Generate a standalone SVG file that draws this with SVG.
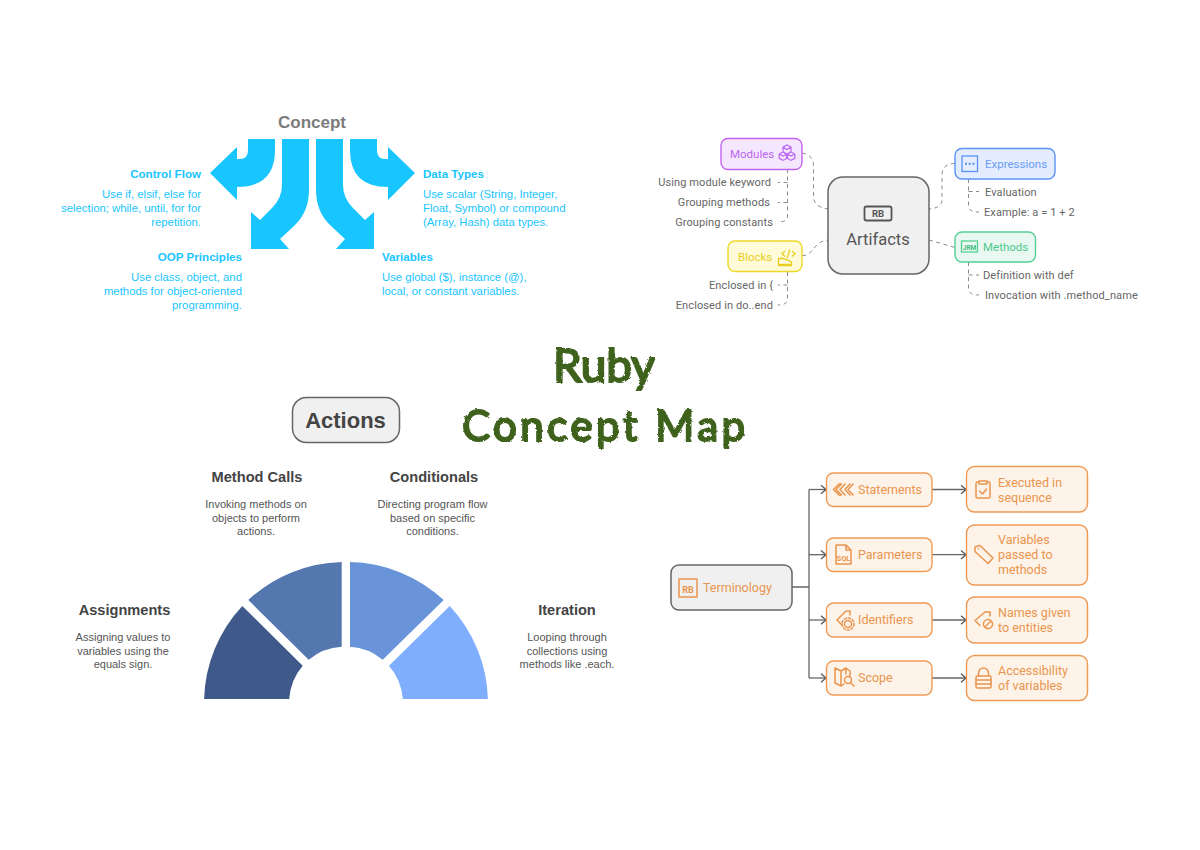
<svg xmlns="http://www.w3.org/2000/svg" width="1200" height="850" viewBox="0 0 1200 850">
<style>
text{font-family:"Liberation Sans",Arial,sans-serif}
.bl{fill:#19c5ff;font-size:11.35px}
.blt{fill:#19c5ff;font-size:11.6px;font-weight:700}
.r{text-anchor:end}
.m{text-anchor:middle}
.h{fill:#444;font-size:14.6px;font-weight:700;text-anchor:middle}
.b{fill:#555;font-size:11px;text-anchor:middle}
.rb{font-family:Roboto,"Liberation Sans",sans-serif}
.sub{font-family:Roboto,"Liberation Sans",sans-serif;fill:#666;font-size:11px;letter-spacing:.1px}
.lab{font-family:Roboto,"Liberation Sans",sans-serif;font-size:11.5px}
.or{font-family:Roboto,"Liberation Sans",sans-serif;font-size:12.5px;fill:#e9954f}
.obox{fill:#fef3e8;stroke:#ee9a55;stroke-width:1.4}
.oic{fill:none;stroke:#e9954f;stroke-width:1.5;stroke-linejoin:round;stroke-linecap:round}
.dash{fill:none;stroke:#8a8a8a;stroke-width:1;stroke-dasharray:4 3.5}
.conn{fill:none;stroke:#666;stroke-width:1.3}
.title{font-family:Lato,sans-serif;fill:#3f621f;filter:url(#rough);stroke:#3f621f;stroke-width:2}
</style>
<defs>
<marker id="chev" markerWidth="8" markerHeight="10" refX="6.5" refY="5" orient="auto" markerUnits="userSpaceOnUse"><path d="M1.5 .8 6.5 5 1.5 9.2" fill="none" stroke="#555" stroke-width="1.3"/></marker>
<filter id="rough" x="-5%" y="-10%" width="110%" height="120%"><feTurbulence type="fractalNoise" baseFrequency=".3" numOctaves="2" seed="4"/><feDisplacementMap in="SourceGraphic" scale="3"/></filter>
<path id="sideArrow" d="M248 139H275V150Q275 187 237 187V200L210 173 237 147V159H240Q248 159 248 150Z"/>
<path id="downArrow" d="M282 139H309V190Q309 212 294 226L280 239 289 249H251V212L260 220 272 208Q282 198 282 185Z"/>
</defs>

<g id="concept-title"><text x="312" y="127.500" class="m" font-size="17" font-weight="700" fill="#7c7c7c">Concept</text></g>
<g id="concept-arrows" fill="#19c5ff">
<use href="#sideArrow"/><use href="#downArrow"/>
<use href="#sideArrow" transform="translate(625 0) scale(-1 1)"/><use href="#downArrow" transform="translate(625 0) scale(-1 1)"/>
</g>
<g id="control-flow"><text x="201" y="177.500" class="blt r">Control Flow</text><text x="201" y="198" class="bl r">Use if, elsif, else for</text><text x="201" y="212" class="bl r">selection; while, until, for for</text><text x="201" y="226" class="bl r">repetition.</text></g>
<g id="data-types"><text x="423" y="177.500" class="blt">Data Types</text><text x="423" y="198" class="bl">Use scalar (String, Integer,</text><text x="423" y="212" class="bl">Float, Symbol) or compound</text><text x="423" y="226" class="bl">(Array, Hash) data types.</text></g>
<g id="oop"><text x="242" y="261" class="blt r">OOP Principles</text><text x="242" y="281" class="bl r">Use class, object, and</text><text x="242" y="295" class="bl r">methods for object-oriented</text><text x="242" y="309" class="bl r">programming.</text></g>
<g id="variables"><text x="382" y="261" class="blt">Variables</text><text x="382" y="281" class="bl">Use global ($), instance (@),</text><text x="382" y="295" class="bl">local, or constant variables.</text></g>

<g id="artifact-connectors">
<path class="dash" d="M802 153Q813 155 813.500 165V197Q814 207 828 209"/>
<path class="dash" d="M802 255.500C814 256 812 242 828 240"/>
<path class="dash" d="M955 163.500Q942 164 942 175V200Q942 208 929 209"/>
<path class="dash" d="M929 240L955 247.500"/>
<path class="dash" d="M787.500 169V216Q787.500 222 778 222M787.500 182.500H778M787.500 202.500H778"/>
<path class="dash" d="M787.500 272V299Q787.500 305 778 305M787.500 285H778"/>
<path class="dash" d="M968.500 179V206Q968.500 212 979 212M968.500 191.500H979"/>
<path class="dash" d="M968.500 262V289Q968.500 295 979 295M968.500 275H979"/>
</g>
<g id="artifacts"><rect x="828" y="177" width="101" height="97" rx="15" fill="#f0f0f0" stroke="#666" stroke-width="1.500"/><rect x="864.500" y="206.500" width="27" height="14" rx="2" fill="none" stroke="#555" stroke-width="1.800"/><text x="878" y="217" class="m rb" font-size="9.500" font-weight="700" fill="#555">RB</text><text x="878" y="245" class="m rb" font-size="16.500" fill="#555">Artifacts</text></g>
<g id="modules"><rect x="721" y="138.500" width="81" height="31" rx="7" fill="#f5e6ff" stroke="#c264f0" stroke-width="1.400"/><text x="730" y="157.500" class="lab" fill="#bb66ee">Modules</text><path d="M787 145l4 2.200v4.600l-4 2.200-4-2.200v-4.600zM783 152l3.500 2v4.400l-3.500 2-3.800-2v-4.400zM791 152l3.800 2v4.400l-3.800 2-3.500-2v-4.400zM783 147.200l4 2.300 4-2.300M779.200 154l3.800 2 3.500-2M787.500 154l3.500 2 3.800-2" fill="none" stroke="#bb66ee" stroke-width="1.200"/></g>
<g id="blocks"><rect x="728" y="241" width="74" height="30.500" rx="7" fill="#fffbd8" stroke="#eed726" stroke-width="1.400"/><text x="738" y="261" class="lab" fill="#e6cf22">Blocks</text><path d="M785 251l-3 2.800 3 2.800M792 251l3 2.800-3 2.800M789.800 249.500l-2.600 8.500M778.500 258.500h5l8 3.500v2.500h-13zM778 265.500h14" fill="none" stroke="#e6cf22" stroke-width="1.300"/></g>
<g id="expressions"><rect x="955" y="148.500" width="100" height="30.500" rx="7" fill="#e3edff" stroke="#5b93f5" stroke-width="1.400"/><rect x="962" y="156" width="15.500" height="15.500" fill="none" stroke="#5b93f5" stroke-width="1.300"/><path d="M965 163.800h1.800M968.800 163.800h1.800M972.600 163.800h1.800" stroke="#4c86f0" stroke-width="2"/><text x="985" y="167.500" class="lab" fill="#6b9cf5">Expressions</text></g>
<g id="methods"><rect x="955" y="232" width="80.500" height="30" rx="7" fill="#e9f9f1" stroke="#55cf95" stroke-width="1.400"/><rect x="961.500" y="241" width="16" height="11" fill="none" stroke="#55cf95" stroke-width="1.300"/><text x="969.500" y="249.500" class="m rb" font-size="6.500" font-weight="700" fill="#3eb87d">JRM</text><text x="983" y="251" class="lab" fill="#4cc78c">Methods</text></g>
<g id="artifact-leaves">
<text x="771" y="186" class="r sub">Using module keyword</text><text x="770" y="206" class="r sub">Grouping methods</text><text x="773" y="226" class="r sub">Grouping constants</text><text x="773" y="289" class="r sub">Enclosed in {</text><text x="773" y="309" class="r sub">Enclosed in do..end</text>
<text x="985" y="196" class="sub">Evaluation</text><text x="984" y="216" class="sub">Example: a = 1 + 2</text><text x="983" y="279" class="sub">Definition with def</text><text x="985" y="299" class="sub">Invocation with .method_name</text>
</g>

<g id="title"><text x="553" y="382" class="title" font-size="46" textLength="102" lengthAdjust="spacing">Ruby</text><text x="462" y="441" class="title" font-size="42" textLength="283" lengthAdjust="spacing">Concept Map</text></g>

<g id="actions"><rect x="292.500" y="397.500" width="107" height="45" rx="14" fill="#f0f0f0" stroke="#666" stroke-width="1.500"/><text x="345.500" y="428" class="m" font-size="22" font-weight="700" fill="#444">Actions</text></g>
<g id="method-calls"><text x="257" y="482" class="h">Method Calls</text><text x="256" y="508" class="b">Invoking methods on</text><text x="256" y="521.500" class="b">objects to perform</text><text x="256" y="535" class="b">actions.</text></g>
<g id="conditionals"><text x="434" y="482" class="h">Conditionals</text><text x="432.500" y="508" class="b">Directing program flow</text><text x="432.500" y="521.500" class="b">based on specific</text><text x="432.500" y="535" class="b">conditions.</text></g>
<g id="assignments"><text x="124.500" y="615" class="h">Assignments</text><text x="123" y="641" class="b">Assigning values to</text><text x="123" y="654.500" class="b">variables using the</text><text x="123" y="668" class="b">equals sign.</text></g>
<g id="iteration"><text x="567" y="615" class="h">Iteration</text><text x="567" y="641" class="b">Looping through</text><text x="567" y="654.500" class="b">collections using</text><text x="567" y="668" class="b">methods like .each.</text></g>
<g id="semicircle">
<path fill="#3f5a8a" d="M204.100 699A142 142 0 0 1 242.300 606L302.700 665.700A57 57 0 0 0 289.200 699Z"/>
<path fill="#5577b0" d="M248.300 600A142 142 0 0 1 341.700 562V646.800A57 57 0 0 0 308.700 659.700Z"/>
<path fill="#6994d9" d="M350 562A142 142 0 0 1 443.700 600L382.700 659.700A57 57 0 0 0 350 646.800Z"/>
<path fill="#80aeff" d="M449.700 606A142 142 0 0 1 487.900 699H402.800A57 57 0 0 0 389 665.700Z"/>
</g>

<g id="terminology-connectors">
<path class="conn" d="M792 587H809M809 489.500V678"/>
<path class="conn" marker-end="url(#chev)" d="M809 489.500H826"/>
<path class="conn" marker-end="url(#chev)" d="M809 554.700H826"/>
<path class="conn" marker-end="url(#chev)" d="M809 620H826" stroke-width="1.600"/>
<path class="conn" marker-end="url(#chev)" d="M809 678H826"/>
<path class="conn" marker-end="url(#chev)" d="M932 489.500H966"/>
<path class="conn" marker-end="url(#chev)" d="M932 554.700H966"/>
<path class="conn" marker-end="url(#chev)" d="M932 620H966" stroke-width="1.600"/>
<path class="conn" marker-end="url(#chev)" d="M932 678H966"/>
</g>
<g id="terminology"><rect x="671" y="565" width="121" height="45" rx="8" fill="#f0f0f0" stroke="#666" stroke-width="1.500"/><rect x="679" y="579" width="18" height="18" class="oic"/><text x="688" y="593" class="m rb" font-size="9" font-weight="700" fill="#e9954f">RB</text><text x="703" y="592" class="or">Terminology</text></g>
<g id="statements"><rect x="826.500" y="473" width="105.500" height="33.500" rx="7" class="obox"/><path class="oic" d="M839 484l-5.500 5.500 5.500 5.500h2.500l-5.500-5.500 5.500-5.500zM845 484l-5 5.500 5 5.500M850 484l-5 5.500 5 5.500M853 484l-5 5.500 5 5.500"/><text x="858" y="494" class="or">Statements</text></g>
<g id="parameters"><rect x="826.500" y="538" width="105.500" height="33.500" rx="7" class="obox"/><path class="oic" d="M836 545h10l5 5v14h-15zM846 545v5h5"/><text x="843.500" y="560.500" class="m rb" font-size="7.500" font-weight="700" fill="#e9954f">SQL</text><text x="858" y="559" class="or">Parameters</text></g>
<g id="identifiers"><rect x="826.500" y="603" width="105.500" height="34" rx="7" class="obox"/><path class="oic" d="M846 611l-9 9 5 5M846 611h4v4"/><circle cx="848" cy="624" r="3.500" class="oic"/><circle cx="848" cy="624" r="6" class="oic" stroke-dasharray="2 2"/><text x="858" y="624" class="or">Identifiers</text></g>
<g id="scope"><rect x="826.500" y="661" width="105.500" height="34" rx="7" class="obox"/><path class="oic" d="M835 668l6 3 5-3 4 3v5M835 668v15l6 3 3-2M841 671v15M846 668v6"/><circle cx="848" cy="680" r="3.500" class="oic"/><path class="oic" d="M851 683l3 3"/><text x="858" y="682" class="or">Scope</text></g>
<g id="executed"><rect x="966.500" y="466.500" width="121" height="45.500" rx="8" class="obox"/><path class="oic" d="M979 482h-1.500a1.500 1.500 0 0 0-1.500 1.500v13a1.500 1.500 0 0 0 1.500 1.500h11a1.500 1.500 0 0 0 1.500-1.500v-13a1.500 1.500 0 0 0-1.500-1.500H987M979 481h8v3h-8zM979.500 491l3 3 4-5"/><text x="998" y="486.500" class="or">Executed in</text><text x="998" y="501.500" class="or">sequence</text></g>
<g id="passed"><rect x="966.500" y="525" width="121" height="60" rx="8" class="obox"/><path class="oic" d="M975 547l5-1.500 13 12.500-5 5.500-13-12zM978.500 549h.1"/><text x="998" y="544" class="or">Variables</text><text x="998" y="559" class="or">passed to</text><text x="998" y="574" class="or">methods</text></g>
<g id="names"><rect x="966.500" y="597" width="121" height="46" rx="8" class="obox"/><path class="oic" d="M985 612l-10 8.500 5 5M985 612h5v4"/><circle cx="988" cy="624" r="4.500" class="oic"/><path class="oic" d="M985 627l6-6"/><text x="998" y="617" class="or">Names given</text><text x="998" y="632" class="or">to entities</text></g>
<g id="access"><rect x="966.500" y="655.500" width="121" height="45" rx="8" class="obox"/><rect x="976" y="676" width="15" height="12" rx="1.500" class="oic" fill="#f4c8a0"/><path class="oic" d="M978.500 676v-3a5 5 0 0 1 10 0v3M976 680h15M976 684h15"/><text x="998" y="675" class="or">Accessibility</text><text x="998" y="690" class="or">of variables</text></g>
</svg>
